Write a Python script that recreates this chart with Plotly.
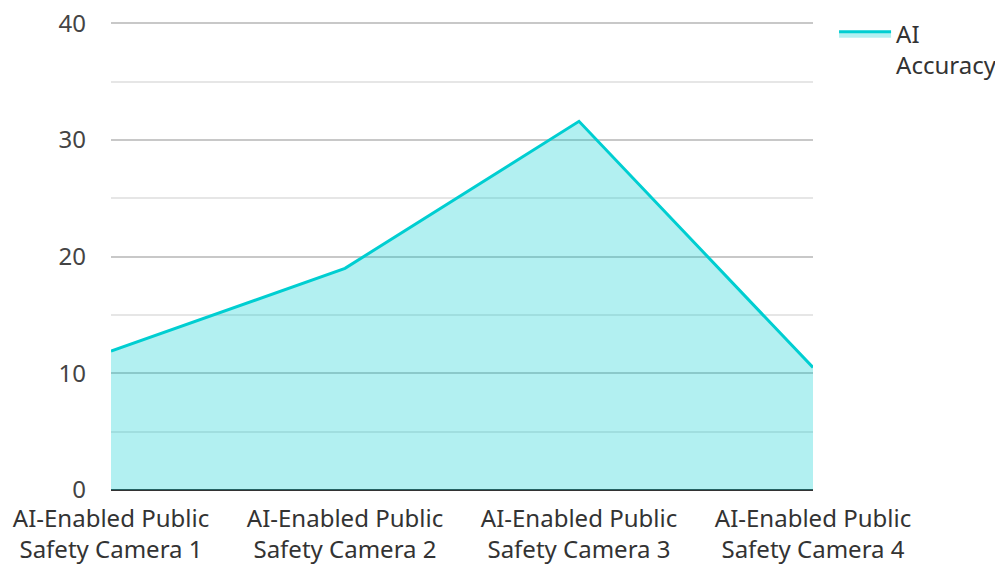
import plotly.graph_objects as go

categories = ["AI-Enabled Public<br>Safety Camera 1", "AI-Enabled Public<br>Safety Camera 2",
              "AI-Enabled Public<br>Safety Camera 3", "AI-Enabled Public<br>Safety Camera 4"]
accuracy = [11.9, 19.0, 31.6, 10.5]
series_name = "AI<br>Accuracy"

fig = go.Figure()
fig.add_trace(go.Scatter(
    x=categories, y=accuracy, name=series_name, mode="lines",
    line=dict(color="#00CED1", width=3),
    fill="tozeroy", fillcolor="rgba(0,206,209,0.3)",
))

font_family = "Noto Sans"
fig.update_layout(
    width=1003, height=564,
    margin=dict(l=103, r=198, t=4, b=82),
    paper_bgcolor="white", plot_bgcolor="white",
    font=dict(family=font_family, size=24, color="#333333"),
    showlegend=True,
    legend=dict(x=1.03, y=1.02, xanchor="left", yanchor="top", valign="top",
                itemwidth=52,
                font=dict(size=24, color="#333333"), bgcolor="rgba(0,0,0,0)"),
    xaxis=dict(range=[0, 3], showgrid=False, ticks="", showline=False, automargin=False,
               ticklabelstandoff=12,
               tickfont=dict(size=24, color="#333333")),
    yaxis=dict(range=[0, 40.2], tickvals=[0, 10, 20, 30, 40], showgrid=True,
               gridcolor="#c8c8c8", gridwidth=2,
               zeroline=True, zerolinecolor="#333333", zerolinewidth=2,
               ticks="", ticklabelstandoff=24, automargin=False,
               ticklabeloverflow="allow",
               tickfont=dict(size=24, color="#444444"),
               minor=dict(tickvals=[5, 15, 25, 35], showgrid=True, gridcolor="#e6e6e6", gridwidth=2)),
)

fig.write_html("out.html")
